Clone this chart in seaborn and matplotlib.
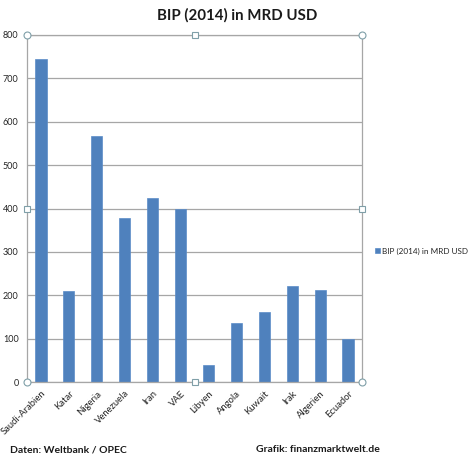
import numpy as np
import pandas as pd
import matplotlib
matplotlib.use("Agg")
import matplotlib.pyplot as plt
import seaborn as sns

# ── Data ────────────────────────────────────────────────────────────────
countries = ["Saudi-Arabien", "Katar", "Nigeria", "Venezuela", "Iran", "VAE",
             "Libyen", "Angola", "Kuwait", "Irak", "Algerien", "Ecuador"]
gdp_2014 = [745, 209, 567, 379, 424, 399, 39, 137, 162, 222, 212, 100]
y_ticks = [0, 100, 200, 300, 400, 500, 600, 700, 800]
series_name = "BIP (2014) in MRD USD"

df = pd.DataFrame({"Land": countries, "BIP": gdp_2014})

sns.set_style("white")
plt.rcParams["font.family"] = ["Lato", "DejaVu Sans"]

fig = plt.figure(figsize=(4.74, 4.67), dpi=100)
ax = fig.add_axes([27 / 474, 1 - 382 / 467, 335 / 474, 347 / 467])

sns.barplot(data=df, x="Land", y="BIP", color="#4F81BD", width=0.4,
            edgecolor="#5B8CC8", linewidth=0.5, saturation=1,
            label=series_name, ax=ax)

ax.set_xlim(-0.5, len(countries) - 0.5)
ax.set_ylim(0, 800)
ax.set_yticks(y_ticks)
ax.set_xlabel("")
ax.set_ylabel("")
ax.grid(axis="y", color="#A6A6A6", linewidth=0.9)
ax.set_axisbelow(True)
for side in ["left", "right", "bottom", "top"]:
    ax.spines[side].set_color("#A6A6A6")
    ax.spines[side].set_linewidth(0.9)

ax.tick_params(axis="y", length=0, pad=6, labelsize=6.5, labelcolor="#262626")
ax.set_xticks(range(len(countries)))
ax.set_xticklabels(countries, rotation=45, ha="right", rotation_mode="anchor",
                   fontsize=6.8, color="#262626")
ax.tick_params(axis="x", which="major", length=0, pad=5)
ax.set_xticks(np.arange(-0.5, len(countries), 1.0), minor=True)
ax.tick_params(axis="x", which="minor", length=3, color="#A6A6A6")

# selection handles on the plot area frame
for hx, hy, mk in [(0, 0, "o"), (0, 1, "o"), (1, 0, "o"), (1, 1, "o"),
                   (0.5, 0, "s"), (0.5, 1, "s"), (0, 0.5, "s"), (1, 0.5, "s")]:
    ax.plot(hx, hy, marker=mk, markersize=5 if mk == "o" else 4,
            markerfacecolor="white", markeredgecolor="#7F9FA8",
            markeredgewidth=0.8, transform=ax.transAxes, clip_on=False, zorder=5)

ax.legend(loc="center left", bbox_to_anchor=(375 / 474, 1 - 251 / 467),
          bbox_transform=fig.transFigure, frameon=False, fontsize=5.9,
          handlelength=0.6, handleheight=0.6, handletextpad=0.3,
          borderaxespad=0, borderpad=0)

fig.text(237 / 474, 1 - 15 / 467, "BIP (2014) in MRD USD", ha="center",
         va="center", fontsize=10.8, fontweight="bold", color="#1a1a1a")
fig.text(10 / 474, 1 - 450 / 467, "Daten: Weltbank / OPEC", ha="left",
         va="center", fontsize=7.5, fontweight="bold", color="#1a1a1a")
fig.text(256 / 474, 1 - 450 / 467, "Grafik: finanzmarktwelt.de", ha="left",
         va="center", fontsize=7.5, fontweight="bold", color="#1a1a1a")

fig.savefig("out.png", dpi=100)
